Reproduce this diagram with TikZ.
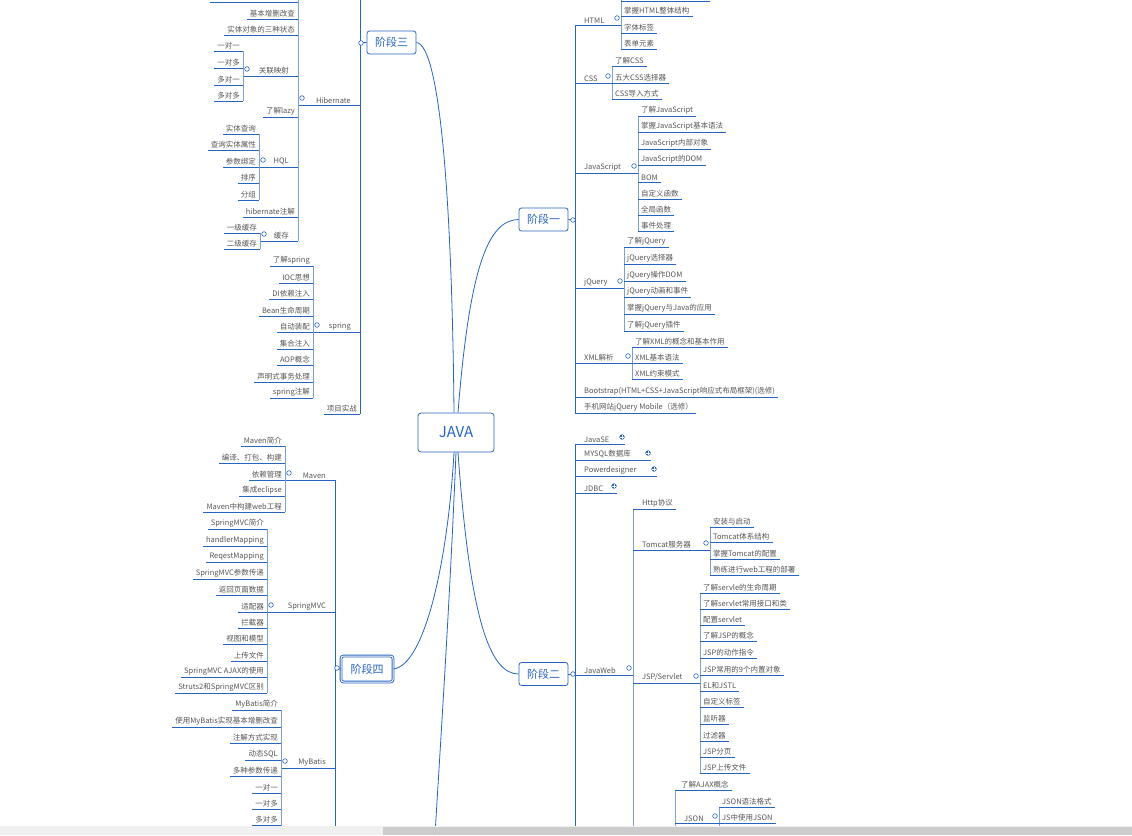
\documentclass[tikz,border=0pt]{standalone}
\usepackage{fontspec}
\setmainfont{Noto Sans CJK SC}
\definecolor{ln}{RGB}{40,100,190}
\definecolor{lnl}{RGB}{120,160,220}
\definecolor{tx}{RGB}{85,85,85}
\tikzset{
 leaf/.style={font=\fontsize{7.5}{8}\selectfont, text=tx, inner xsep=3pt, inner ysep=1.5pt},
 ln/.style={draw=ln, line width=0.9pt},
 dot/.style={draw=ln, fill=white, line width=0.6pt},
 stage/.style={draw=ln, rounded corners=2.5pt, fill=white, font=\fontsize{11}{12}\selectfont, text=ln, minimum width=49pt, minimum height=23pt, line width=0.8pt},
}
\newcommand\rleaf[4]{\node[leaf,anchor=south west] (#1) at (#2,#3) {#4}; \draw[ln] (#1.south west) -- (#1.south east);}
\newcommand\lleaf[4]{\node[leaf,anchor=south east] (#1) at (#2,#3) {#4}; \draw[ln] (#1.south east) -- (#1.south west);}
% right parent: name, spine x, y, text, bar x
\newcommand\rpar[5]{\node[leaf,anchor=south west,inner xsep=9pt] (#1) at (#2,#3) {#4}; \draw[ln] (#1.south west) -- (#5,#3); \draw[dot] (#5-4,#3-7) circle (2.3pt);}
\newcommand\lpar[5]{\node[leaf,anchor=south east,inner xsep=9pt] (#1) at (#2,#3) {#4}; \draw[ln] (#1.south east) -- (#5,#3); \draw[dot] (#5+4,#3-7) circle (2.3pt);}
\newcommand\vbar[3]{\draw[ln,lnl] (#1,#2) -- (#1,#3);}
\begin{document}
\begin{tikzpicture}[x=1pt,y=-1pt]
\useasboundingbox (0,0) rectangle (1132,835);
% central
\node[draw=ln, rounded corners=3pt, fill=white, minimum width=76pt, minimum height=39pt, font=\fontsize{15}{16}\selectfont, text=ln, line width=0.8pt] (java) at (456,432.5) {JAVA};
\node[stage] (s3) at (391.5,42.5) {阶段三};
\node[stage] (s1) at (543.5,219.5) {阶段一};
\node[stage] (s2) at (543.5,674) {阶段二};
\node[stage, double, double distance=1pt, line width=0.9pt, minimum width=52pt, minimum height=26pt] (s4) at (367,669) {阶段四};
\coordinate (s5) at (435,835);
\draw[ln,line width=0.8pt] (s3.east) .. controls (440,45) and (452,200) .. ([xshift=-2pt]java.north);
\draw[ln,line width=0.8pt] ([xshift=2pt]java.north) .. controls (470,260) and (490,220) .. (s1.west);
\draw[ln,line width=0.8pt] ([xshift=2pt]java.south) .. controls (470,620) and (490,674) .. (s2.west);
\draw[ln,line width=0.8pt] (s4.east) .. controls (425,665) and (448,560) .. ([xshift=-2pt]java.south);
\draw[ln,line width=0.8pt] (java.south) .. controls (450,600) and (440,750) .. (s5);
% ===== stage 3
\draw[ln] (360,0) -- (360,414);
\draw[ln] (360,43) -- (s3.west); \draw[dot] (361,43) circle (2.3pt);
\lpar{hib}{360}{105}{Hibernate}{298}
\lpar{spr}{360}{332}{spring}{313}
\lleaf{xmsz}{360}{414}{项目实战}
\vbar{298}{0}{241}
\draw[ln] (210,2) -- (298,2);
\lleaf{h1}{298}{19}{基本增删改查}
\lleaf{h2}{298}{35}{实体对象的三种状态}
\lpar{glys}{298}{76}{关联映射}{243}
\lleaf{h3}{298}{117}{了解lazy}
\lpar{hql}{298}{167}{HQL}{259}
\lleaf{h4}{298}{217}{hibernate注解}
\lpar{hc}{298}{241}{缓存}{260}
\vbar{243}{51}{101}
\lleaf{g1}{243}{51}{一对一}\lleaf{g2}{243}{68}{一对多}\lleaf{g3}{243}{85}{多对一}\lleaf{g4}{243}{101}{多对多}
\vbar{259}{134}{200}
\lleaf{q1}{259}{134}{实体查询}\lleaf{q2}{259}{150}{查询实体属性}\lleaf{q3}{259}{167}{参数绑定}\lleaf{q4}{259}{183}{排序}\lleaf{q5}{259}{200}{分组}
\vbar{260}{233}{249}
\lleaf{c1}{260}{233}{一级缓存}\lleaf{c2}{260}{249}{二级缓存}
\vbar{313}{266}{398}
\lleaf{sp1}{313}{266}{了解spring}\lleaf{sp2}{313}{283}{IOC思想}\lleaf{sp3}{313}{299}{DI依赖注入}
\lleaf{sp4}{313}{316}{Bean生命周期}\lleaf{sp5}{313}{332}{自动装配}\lleaf{sp6}{313}{349}{集合注入}
\lleaf{sp7}{313}{365}{AOP概念}\lleaf{sp8}{313}{382}{声明式事务处理}\lleaf{sp9}{313}{398}{spring注解}
% ===== stage 4
\draw[ln] (335,480) -- (335,835);
\draw[ln] (335,668) -- (s4.west); \draw[dot] (337,668) circle (2.3pt);
\lpar{mvn}{335}{480}{Maven}{285}
\lpar{smvc}{335}{612}{SpringMVC}{267}
\lpar{mb}{335}{768}{MyBatis}{281}
\vbar{285}{446}{512}
\lleaf{m1}{285}{446}{Maven简介}\lleaf{m2}{285}{463}{编译、打包、构建}\lleaf{m3}{285}{480}{依赖管理}\lleaf{m4}{285}{496}{集成eclipse}\lleaf{m5}{285}{512}{Maven中构建web工程}
\vbar{267}{529}{693}
\lleaf{v1}{267}{529}{SpringMVC简介}\lleaf{v2}{267}{546}{handlerMapping}\lleaf{v3}{267}{562}{ReqestMapping}
\lleaf{v4}{267}{579}{SpringMVC参数传递}\lleaf{v5}{267}{595}{返回页面数据}\lleaf{v6}{267}{612}{适配器}
\lleaf{v7}{267}{628}{拦截器}\lleaf{v8}{267}{644}{视图和模型}\lleaf{v9}{267}{661}{上传文件}
\lleaf{v10}{267}{677}{SpringMVC AJAX的使用}\lleaf{v11}{267}{693}{Struts2和SpringMVC区别}
\vbar{281}{710}{835}
\lleaf{b1}{281}{710}{MyBatis简介}\lleaf{b2}{281}{727}{使用MyBatis实现基本增删改查}\lleaf{b3}{281}{743}{注解方式实现}
\lleaf{b4}{281}{760}{动态SQL}\lleaf{b5}{281}{776}{多种参数传递}\lleaf{b6}{281}{793}{一对一}
\lleaf{b7}{281}{809}{一对多}\lleaf{b8}{281}{825}{多对多}
% ===== stage 1
\draw[ln] (575,25) -- (575,413);
\draw[ln] (s1.east) -- (575,220); \draw[dot] (573,220) circle (2.3pt);
\rpar{html}{575}{25}{HTML}{621}
\rpar{css}{575}{83}{CSS}{612}
\rpar{js}{575}{173}{JavaScript}{638}
\rpar{jq}{575}{288}{jQuery}{624}
\rpar{xml}{575}{363}{XML解析}{632}
\rleaf{bs}{575}{397}{\hspace{6pt}Bootstrap(HTML+CSS+JavaScript响应式布局框架)(选修)}
\rleaf{mob}{575}{413}{\hspace{6pt}手机网站jQuery Mobile（选修）}
\vbar{621}{0}{49}
\draw[ln] (621,1) -- (710,1);
\rleaf{ht1}{621}{16}{掌握HTML整体结构}\rleaf{ht2}{621}{33}{字体标签}\rleaf{ht3}{621}{49}{表单元素}
\vbar{612}{66}{99}
\rleaf{cs1}{612}{66}{了解CSS}\rleaf{cs2}{612}{83}{五大CSS选择器}\rleaf{cs3}{612}{99}{CSS导入方式}
\vbar{638}{116}{231}
\rleaf{j1}{638}{116}{了解JavaScript}\rleaf{j2}{638}{132}{掌握JavaScript基本语法}\rleaf{j3}{638}{149}{JavaScript内部对象}
\rleaf{j4}{638}{165}{JavaScript的DOM}\rleaf{j5}{638}{182}{BOM}\rleaf{j6}{638}{199}{自定义函数}
\rleaf{j7}{638}{215}{全局函数}\rleaf{j8}{638}{231}{事件处理}
\vbar{624}{247}{331}
\rleaf{q1}{624}{247}{了解jQuery}\rleaf{q2}{624}{264}{jQuery选择器}\rleaf{q3}{624}{281}{jQuery操作DOM}
\rleaf{q4}{624}{297}{jQuery动画和事件}\rleaf{q5}{624}{314}{掌握jQuery与Java的应用}\rleaf{q6}{624}{331}{了解jQuery插件}
\vbar{632}{347}{379}
\rleaf{x1}{632}{347}{了解XML的概念和基本作用}\rleaf{x2}{632}{363}{XML基本语法}\rleaf{x3}{632}{379}{XML约束模式}
% ===== stage 2
\draw[ln] (575,444) -- (575,835);
\draw[ln] (s2.east) -- (575,674); \draw[dot] (573,674) circle (2.3pt);
\newcommand\plusn[4]{\node[leaf,anchor=south west,inner xsep=9pt] (#1) at (575,#2) {#3}; \draw[ln] (#1.south west) -- (#4,#2);
  \draw[dot,fill=ln] (#4-3,#2-7) circle (2.3pt); \draw[white,line width=0.5pt] (#4-5,#2-7) -- (#4-1,#2-7) (#4-3,#2-9) -- (#4-3,#2-5);}
\plusn{jse}{444}{JavaSE}{625}
\plusn{mys}{460}{MYSQL数据库}{651}
\plusn{pd}{476}{Powerdesigner}{657}
\plusn{jdbc}{493}{JDBC}{617}
\rpar{jw}{575}{675}{JavaWeb}{633}
\vbar{633}{509}{835}
\rleaf{http}{633}{509}{\hspace{6pt}Http协议}
\rpar{tom}{633}{550}{Tomcat服务器}{710}
\rpar{jsp}{633}{683}{JSP/Servlet}{700}
\vbar{710}{527}{575}
\rleaf{t1}{710}{527}{安装与启动}\rleaf{t2}{710}{542}{Tomcat体系结构}\rleaf{t3}{710}{559}{掌握Tomcat的配置}\rleaf{t4}{710}{575}{熟练进行web工程的部署}
\vbar{700}{593}{773}
\rleaf{s1a}{700}{593}{了解servle的生命周期}\rleaf{s2a}{700}{609}{了解servlet常用接口和类}\rleaf{s3a}{700}{625}{配置servlet}
\rleaf{s4a}{700}{641}{了解JSP的概念}\rleaf{s5a}{700}{658}{JSP的动作指令}\rleaf{s6a}{700}{675}{JSP常用的9个内置对象}
\rleaf{s7a}{700}{691}{EL和JSTL}\rleaf{s8a}{700}{707}{自定义标签}\rleaf{s9a}{700}{724}{监听器}
\rleaf{s10a}{700}{741}{过滤器}\rleaf{s11a}{700}{757}{JSP分页}\rleaf{s12a}{700}{773}{JSP上传文件}
\vbar{675}{790}{835}
\rleaf{aj}{675}{790}{\hspace{3pt}了解AJAX概念}
\rpar{json}{675}{823}{JSON}{719}
\vbar{719}{807}{835}
\rleaf{js1}{719}{807}{JSON语法格式}\rleaf{js2}{719}{823}{JS中使用JSON}
% scrollbar
\fill[gray!12] (0,826) rectangle (1132,835);
\fill[gray!40] (383,827) rectangle (1132,835);
\end{tikzpicture}
\end{document}
